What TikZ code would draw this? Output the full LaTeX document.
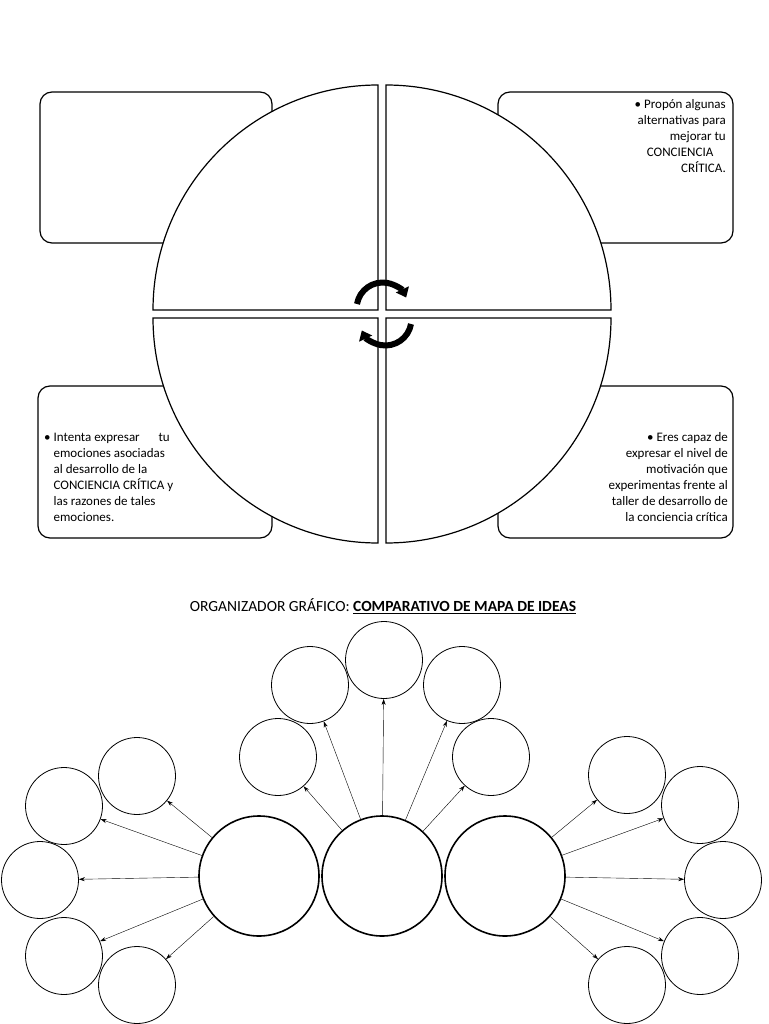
\documentclass[tikz,border=0pt]{standalone}
\usepackage{fontspec}
\setmainfont{Carlito}
\usetikzlibrary{arrows.meta}
\begin{document}
\begin{tikzpicture}[x=1pt,y=-1pt,
  box/.style={draw,line width=1.2pt,rounded corners=12pt},
  quad/.style={draw,line width=1.2pt,fill=white},
  txt/.style={font=\fontsize{13}{16}\selectfont,inner sep=0pt},
  bc/.style={circle,draw,line width=1.6pt,minimum size=120pt,inner sep=0pt},
  sc/.style={circle,draw,line width=0.8pt,minimum size=77pt,inner sep=0pt},
  ar/.style={-{Stealth[length=6pt,width=4pt]},line width=0.4pt},
  rot/.style={line width=6pt,-{Triangle[length=9pt,width=14pt]}}]
\useasboundingbox (0,0) rectangle (768,1024);
\node[box,minimum width=232pt,minimum height=151pt] (b1) at (156,167.5) {};
\node[box,minimum width=235pt,minimum height=151pt] (b2) at (615.5,167.5) {};
\node[box,minimum width=234pt,minimum height=152pt] (b3) at (155,462) {};
\node[box,minimum width=235pt,minimum height=152pt] (b4) at (615.5,462) {};
\draw[quad] (378,310) -- ++(-225,0) arc[start angle=180,end angle=270,radius=225] -- cycle;
\draw[quad] (386,310) -- ++(0,-225) arc[start angle=270,end angle=360,radius=225] -- cycle;
\draw[quad] (378,318) -- ++(-225,0) arc[start angle=180,end angle=90,radius=225] -- cycle;
\draw[quad] (386,318) -- ++(0,225) arc[start angle=90,end angle=0,radius=225] -- cycle;
\node[txt,align=right,anchor=north east] (t2) at (726,99) {\textbullet\ Propón algunas\\alternativas para\\mejorar tu\\CONCIENCIA\phantom{aa}\\CRÍTICA.};
\node[txt,align=left,anchor=north west] (t3) at (44,433) {\textbullet\ Intenta expresar\quad\ \ tu\\\phantom{\textbullet\ }emociones asociadas\\\phantom{\textbullet\ }al desarrollo de la\\\phantom{\textbullet\ }CONCIENCIA CRÍTICA y\\\phantom{\textbullet\ }las razones de tales\\\phantom{\textbullet\ }emociones.};
\node[txt,align=right,anchor=north east] (t4) at (728,432) {\textbullet\ Eres capaz de\\expresar el nivel de\\motivación que\\experimentas frente al\\taller de desarrollo de\\la conciencia crítica};
\draw[rot] (357,304) arc[start angle=190,end angle=335,radius=26];
\draw[rot] (411,324) arc[start angle=10,end angle=155,radius=26];
\node[font=\fontsize{15.5}{18}\selectfont] (title) at (383,606) {ORGANIZADOR GRÁFICO: \textbf{\underline{COMPARATIVO DE MAPA DE IDEAS}}};
\node[bc] (L) at (259,876) {};
\node[bc] (M) at (382,876) {};
\node[bc] (R) at (505,876) {};
\foreach \n/\x/\y in {m1/384/660,m2/310/685,m3/462/685,m4/278/757,m5/491/757,
 l1/137/776,l2/64/806,l3/40/880,l4/64/956,l5/137/985,
 r1/627/775,r2/700/805,r3/723/880,r4/700/956,r5/627/985}
  \node[sc] (\n) at (\x,\y) {};
\foreach \n in {m1,m2,m3,m4,m5} \draw[ar] (M) -- (\n);
\foreach \n in {l1,l2,l3,l4,l5} \draw[ar] (L) -- (\n);
\foreach \n in {r1,r2,r3,r4,r5} \draw[ar] (R) -- (\n);
\end{tikzpicture}
\end{document}
